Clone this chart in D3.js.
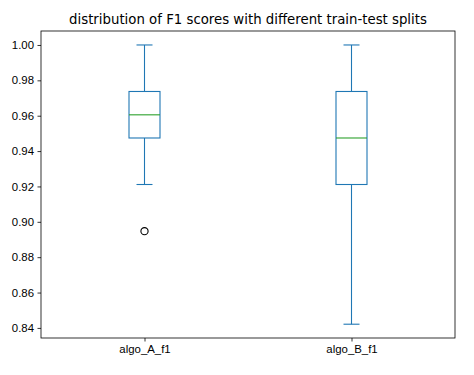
<!DOCTYPE html>
<html>
<head>
<meta charset="utf-8">
<script src="https://cdn.jsdelivr.net/npm/d3@7"></script>
<style>
  body { margin: 0; background: #fff; }
  svg { font-family: "DejaVu Sans", sans-serif; }
</style>
</head>
<body>
<svg id="chart" width="474" height="375"></svg>
<script>
const categories = ["algo_A_f1", "algo_B_f1"];
// [lower whisker, q1, median, q3, upper whisker]
const boxStats = [
  [0.9211, 0.9474, 0.9605, 0.9737, 1.0],
  [0.8421, 0.9211, 0.9474, 0.9737, 1.0]
];
const outliers = [[0.8947], []];
const yTicks = [0.84, 0.86, 0.88, 0.90, 0.92, 0.94, 0.96, 0.98, 1.00];

const svg = d3.select("#chart");
const margin = { top: 31, right: 19, bottom: 37, left: 41 };
const width = +svg.attr("width"), height = +svg.attr("height");
const plotW = width - margin.left - margin.right;
const plotH = height - margin.top - margin.bottom;

const g = svg.append("g").attr("transform", `translate(${margin.left},${margin.top})`);

const x = d3.scaleLinear().domain([0.5, 2.5]).range([0, plotW]);
const y = d3.scaleLinear().domain([0.8343, 1.0079]).range([plotH, 0]);

const boxW = 31, capW = 16;
const blue = "#1f77b4";

boxStats.forEach((s, i) => {
  const cx = x(i + 1);
  const [lo, q1, med, q3, hi] = s;
  // whiskers
  g.append("line").attr("x1", cx).attr("x2", cx).attr("y1", y(q3)).attr("y2", y(hi))
    .attr("stroke", blue).attr("stroke-width", 1.1);
  g.append("line").attr("x1", cx).attr("x2", cx).attr("y1", y(q1)).attr("y2", y(lo))
    .attr("stroke", blue).attr("stroke-width", 1.1);
  // caps
  [lo, hi].forEach(v => {
    g.append("line").attr("x1", cx - capW / 2).attr("x2", cx + capW / 2)
      .attr("y1", y(v)).attr("y2", y(v))
      .attr("stroke", blue).attr("stroke-width", 1.1);
  });
  // box
  g.append("rect").attr("x", cx - boxW / 2).attr("width", boxW)
    .attr("y", y(q3)).attr("height", y(q1) - y(q3))
    .attr("fill", "none").attr("stroke", blue).attr("stroke-width", 1.1);
  // median
  g.append("line").attr("x1", cx - boxW / 2).attr("x2", cx + boxW / 2)
    .attr("y1", y(med)).attr("y2", y(med))
    .attr("stroke", "#2ca02c").attr("stroke-width", 1.1);
  // fliers
  outliers[i].forEach(v => {
    g.append("circle").attr("cx", cx).attr("cy", y(v)).attr("r", 3.6)
      .attr("fill", "none").attr("stroke", "#000").attr("stroke-width", 1.1);
  });
});

// axes
const yAxis = g.append("g")
  .call(d3.axisLeft(y).tickValues(yTicks).tickFormat(d3.format(".2f")).tickSizeOuter(0).tickSize(3.5).tickPadding(3.5));
const xAxis = g.append("g").attr("transform", `translate(0,${plotH})`)
  .call(d3.axisBottom(x).tickValues([1, 2]).tickFormat((d, i) => categories[i]).tickSizeOuter(0).tickSize(3.5).tickPadding(3.5));
[yAxis, xAxis].forEach(a => {
  a.select(".domain").remove();
  a.selectAll("line").attr("stroke", "#000").attr("stroke-width", 0.8);
  a.selectAll("text").style("font-size", "11.4px").attr("fill", "#000");
});

// frame
g.append("rect").attr("width", plotW).attr("height", plotH)
  .attr("fill", "none").attr("stroke", "#000").attr("stroke-width", 0.8);

svg.append("text")
  .attr("x", margin.left + plotW / 2).attr("y", margin.top - 7)
  .attr("text-anchor", "middle")
  .style("font-size", "13.3px")
  .text("distribution of F1 scores with different train-test splits");
</script>
</body>
</html>
